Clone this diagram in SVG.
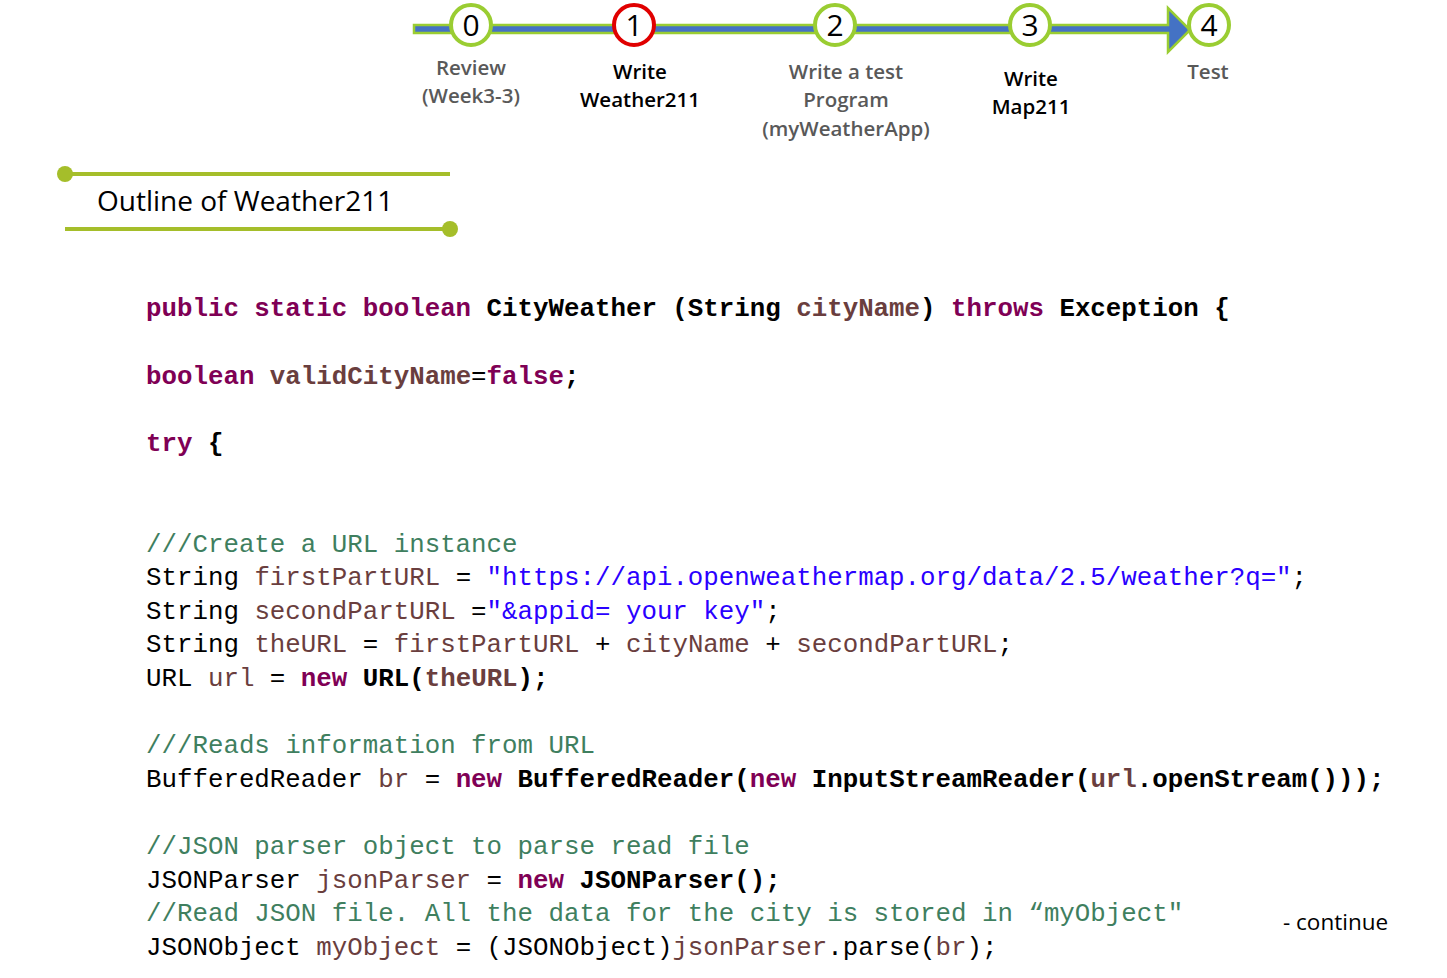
<svg xmlns="http://www.w3.org/2000/svg" width="1447" height="978" viewBox="0 0 1447 978">
<style>
.c{font-family:"Liberation Mono","DejaVu Sans Mono",monospace;font-size:25.8px;fill:#000;white-space:pre}
.k{fill:#7F0055;font-weight:bold}.v{fill:#6A3E3E}.s{fill:#2A00FF}.m{fill:#3F7F5F}.b{font-weight:bold}
.lab{font-family:"Open Sans","Liberation Sans",sans-serif;font-size:20.5px;font-weight:600;text-anchor:middle}
.g{fill:#595959}.n{fill:#000}
.circ{fill:#fff;stroke:#9ACD32;stroke-width:4}
.num{font-family:"Open Sans","Liberation Sans",sans-serif;font-size:30px;text-anchor:middle}
</style>
<rect width="1447" height="978" fill="#fff"/>
<g id="timeline">
<path d="M414,25 H1168 V8 L1190,30 L1168,52 V33 H414 Z" fill="#4472C4" stroke="#9ACD32" stroke-width="2.5"/>
</g>
<g id="n0"><circle class="circ" cx="471" cy="25" r="20"/><text class="num" x="471" y="36">0</text>
<text class="lab g" x="471" y="75">Review</text><text class="lab g" x="471" y="103">(Week3-3)</text></g>
<g id="n1"><circle class="circ" cx="634" cy="25" r="20" style="stroke:#E00000"/><text class="num" x="634" y="36">1</text>
<text class="lab n" x="640" y="79">Write</text><text class="lab n" x="640" y="107">Weather211</text></g>
<g id="n2"><circle class="circ" cx="835" cy="25" r="20"/><text class="num" x="835" y="36">2</text>
<text class="lab g" x="846" y="79">Write a test</text><text class="lab g" x="846" y="107">Program</text><text class="lab g" x="846" y="136">(myWeatherApp)</text></g>
<g id="n3"><circle class="circ" cx="1030" cy="25" r="20"/><text class="num" x="1030" y="36">3</text>
<text class="lab n" x="1031" y="86">Write</text><text class="lab n" x="1031" y="114">Map211</text></g>
<g id="n4"><circle class="circ" cx="1209" cy="25" r="20"/><text class="num" x="1209" y="36">4</text>
<text class="lab g" x="1208" y="79">Test</text></g>
<g id="title">
<line x1="65" y1="174" x2="450" y2="174" stroke="#A5BE2A" stroke-width="4"/><circle cx="65" cy="174" r="8" fill="#A5BE2A"/>
<line x1="65" y1="229" x2="450" y2="229" stroke="#A5BE2A" stroke-width="4"/><circle cx="450" cy="229" r="8" fill="#A5BE2A"/>
<text x="97" y="211" font-family="'Open Sans','Liberation Sans',sans-serif" font-size="28">Outline of Weather211</text>
</g>
<g id="code">
<text class="c" x="146" y="316"><tspan class="k">public static boolean</tspan> <tspan class="b">CityWeather (String</tspan> <tspan class="v b">cityName</tspan><tspan class="b">)</tspan> <tspan class="k">throws</tspan> <tspan class="b">Exception {</tspan></text>
<text class="c" x="146" y="384"><tspan class="k">boolean</tspan> <tspan class="v b">validCityName</tspan>=<tspan class="k">false</tspan><tspan class="b">;</tspan></text>
<text class="c" x="146" y="451"><tspan class="k">try</tspan> <tspan class="b">{</tspan></text>
<text class="c m" x="146" y="552">///Create a URL instance</text>
<text class="c" x="146" y="585">String <tspan class="v">firstPartURL</tspan> = <tspan class="s">"https://api.openweathermap.org/data/2.5/weather?q="</tspan>;</text>
<text class="c" x="146" y="619">String <tspan class="v">secondPartURL</tspan> =<tspan class="s">"&amp;appid= your key"</tspan>;</text>
<text class="c" x="146" y="652">String <tspan class="v">theURL</tspan> = <tspan class="v">firstPartURL</tspan> + <tspan class="v">cityName</tspan> + <tspan class="v">secondPartURL</tspan>;</text>
<text class="c" x="146" y="686">URL <tspan class="v">url</tspan> = <tspan class="k">new</tspan> <tspan class="b">URL(</tspan><tspan class="v b">theURL</tspan><tspan class="b">);</tspan></text>
<text class="c m" x="146" y="753">///Reads information from URL</text>
<text class="c" x="146" y="787">BufferedReader <tspan class="v">br</tspan> = <tspan class="k">new</tspan> <tspan class="b">BufferedReader(</tspan><tspan class="k">new</tspan> <tspan class="b">InputStreamReader(</tspan><tspan class="v b">url</tspan><tspan class="b">.openStream()));</tspan></text>
<text class="c m" x="146" y="854">//JSON parser object to parse read file</text>
<text class="c" x="146" y="888">JSONParser <tspan class="v">jsonParser</tspan> = <tspan class="k">new</tspan> <tspan class="b">JSONParser();</tspan></text>
<text class="c m" x="146" y="921">//Read JSON file. All the data for the city is stored in “myObject"</text>
<text class="c" x="146" y="955">JSONObject <tspan class="v">myObject</tspan> = (JSONObject)<tspan class="v">jsonParser</tspan>.parse(<tspan class="v">br</tspan>);</text>
</g>
<text x="1283" y="930" font-family="'Open Sans','Liberation Sans',sans-serif" font-size="22.5">- continue</text>
</svg>
